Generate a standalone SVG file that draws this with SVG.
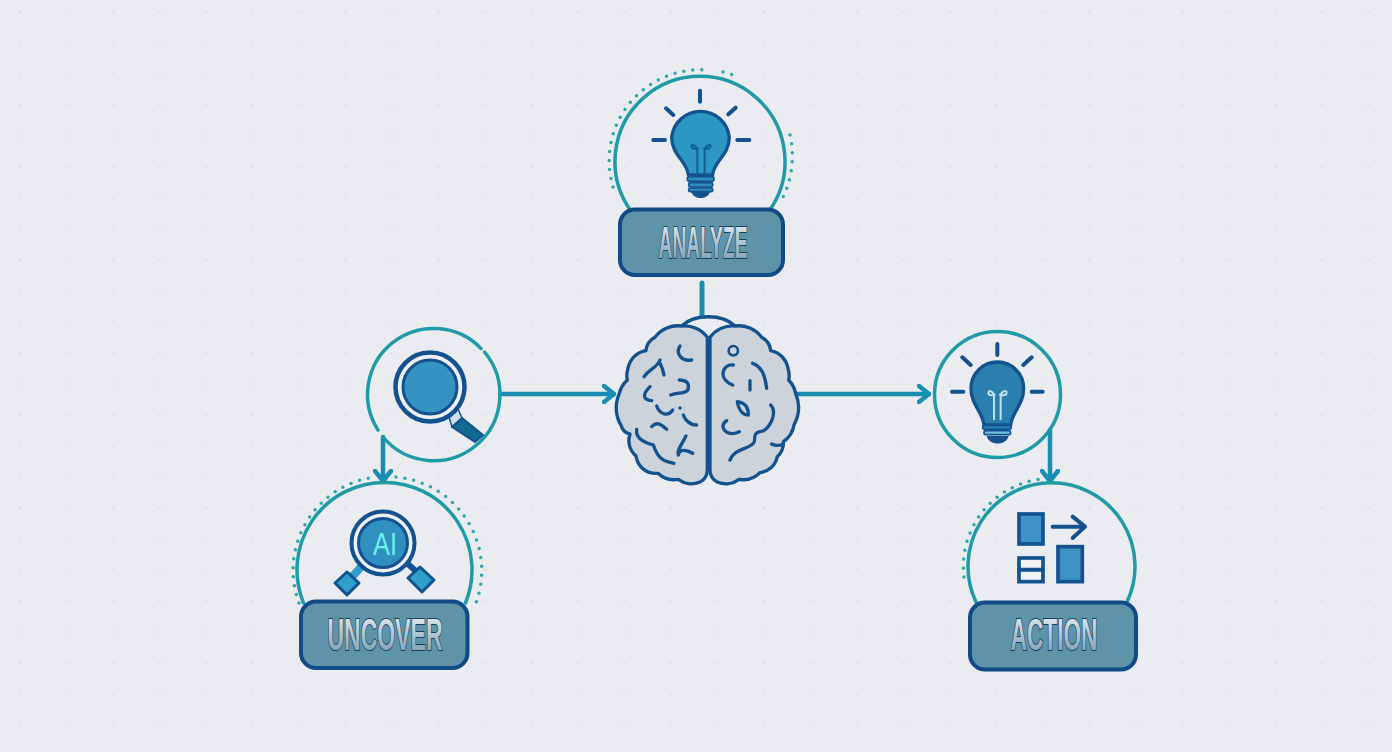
<svg xmlns="http://www.w3.org/2000/svg" width="1392" height="752" viewBox="0 0 1392 752">
<style>
.ring{fill:none;stroke:#1f9aa6;stroke-width:3.500;stroke-linecap:round}
.dots{fill:none;stroke:#2aa9ab;stroke-width:3.500;stroke-linecap:round;stroke-dasharray:0 9}
.box{fill:#5f94a8;stroke:#104a87;stroke-width:4}
.label{font-family:"Liberation Sans",Arial,sans-serif;font-weight:700;font-size:44px;fill:url(#lab);stroke:#17405f;stroke-width:2;paint-order:stroke;text-anchor:middle}
.conn{fill:none;stroke:#1a8db2;stroke-width:4.500;stroke-linecap:round;stroke-linejoin:round}
.z{fill:none;stroke:#13528f;stroke-width:12;stroke-linecap:round;stroke-linejoin:round}
.b{fill:none;stroke:#13528f;stroke-width:10;stroke-linecap:round;stroke-linejoin:round}
.lobe{fill:#cdd3da;stroke:#13528f;stroke-width:10;stroke-linejoin:round}
.zf{stroke:#13528f;stroke-width:10;stroke-linejoin:round}
.fil{fill:none;stroke-width:6;stroke-linecap:round}
</style>
<defs>
<linearGradient id="lab" x1="0" y1="0" x2="0" y2="1"><stop offset="0" stop-color="#eef3f5"/><stop offset=".55" stop-color="#a9bfcd"/><stop offset="1" stop-color="#6f97b0"/></linearGradient>
<pattern id="bg" width="46.500" height="31" patternUnits="userSpaceOnUse"><circle cx="20" cy="12" r="1" fill="#d8dde3"/></pattern>
<marker id="chev" viewBox="0 0 14 20" refX="12" refY="10" markerWidth="14" markerHeight="20" markerUnits="userSpaceOnUse" orient="auto"><path d="M2 2L12 10L2 18" fill="none" stroke="#1a8db2" stroke-width="4.500" stroke-linecap="round" stroke-linejoin="round"/></marker>
</defs>
<rect width="1392" height="752" fill="#eaecef"/>
<rect width="1392" height="752" fill="url(#bg)"/>

<g id="connectors">
<path class="conn" style="stroke-width:5" d="M702 283V315"/>
<path class="conn" d="M500 394H614" marker-end="url(#chev)"/>
<path class="conn" d="M797 394H929" marker-end="url(#chev)"/>
<path class="conn" d="M383 437V481" marker-end="url(#chev)"/>
<path class="conn" d="M1050 430V481" marker-end="url(#chev)"/>
</g>

<g id="analyze">
<path class="dots" d="M613 187A91 91 0 0 1 707 70"/>
<path class="dots" d="M723 72A91 91 0 0 1 733 75"/>
<path class="dots" d="M790 135A94 94 0 0 1 783 197"/>
<path class="ring" d="M631 211A85 85 0 1 1 769 211"/>
<g transform="translate(590 60) scale(.3333)">
<path class="z" d="M330 92V125M228 145L250 165M437 143L415 163M190 240H225M442 240H478"/>
<path class="zf" fill="#2b97c2" d="M295 345C292 305 245 285 245 232A87 87 0 0 1 418 232C418 285 370 305 368 345Z"/>
<path class="fil" stroke="#14608f" d="M322 345V272C322 258 304 248 304 258C304 266 318 268 324 266M344 345V272C344 258 362 248 362 258C362 266 348 268 342 266"/>
<rect x="292" y="350" width="80" height="14" rx="6" fill="#2b8fbb" stroke="#13528f" stroke-width="5"/>
<rect x="296" y="368" width="72" height="13" rx="6" fill="#2b8fbb" stroke="#13528f" stroke-width="5"/>
<rect x="296" y="384" width="72" height="11" rx="5" fill="#2b8fbb" stroke="#13528f" stroke-width="5"/>
<path d="M304 396H360C352 420 312 420 304 396Z" fill="#13528f"/>
</g>
<rect class="box" x="620" y="209.500" width="163" height="65.500" rx="15"/>
<text class="label" x="703" y="258" textLength="89" lengthAdjust="spacingAndGlyphs">ANALYZE</text>
</g>

<g id="brain" transform="translate(600 300) scale(.3333)">
<path d="M245 78A95 60 0 0 1 405 78" fill="none" stroke="#13528f" stroke-width="10"/>
<path class="lobe" d="M322 112A85 85 0 0 0 245 78A85 85 0 0 0 165 112A50 50 0 0 0 138 152A65 65 0 0 0 84 205Q78 225 82 240A80 80 0 0 0 58 280A110 110 0 0 0 64 378A35 35 0 0 0 90 402A60 60 0 0 0 108 468A60 60 0 0 0 174 520A70 70 0 0 0 235 538A65 65 0 0 0 300 546Q322 535 322 510Z"/>
<path class="lobe" d="M330 112A85 85 0 0 1 405 78A85 85 0 0 1 485 112A50 50 0 0 1 512 152A65 65 0 0 1 564 205Q570 225 566 240A80 80 0 0 1 587 280A110 110 0 0 1 582 375A75 75 0 0 1 550 425A55 55 0 0 1 532 470A60 60 0 0 1 480 518A70 70 0 0 1 417 538A65 65 0 0 1 352 546Q330 535 330 510Z"/>
<path class="b" d="M240 138C225 160 245 185 275 180M132 230C150 205 170 205 180 180M180 190C185 200 190 210 192 225M150 260C125 285 130 300 155 302M212 285C240 275 270 285 265 255C262 242 250 240 238 240M170 318C180 345 205 350 218 330M250 345C255 360 270 375 290 375M155 380C175 360 190 380 200 388M110 388C105 420 140 430 160 435C175 480 195 485 222 490M258 408C245 435 230 450 235 465C240 445 260 450 278 460"/>
<circle cx="240" cy="324" r="5" fill="#13528f"/>
<circle cx="400" cy="152" r="14" fill="none" stroke="#13528f" stroke-width="8"/>
<path class="b" d="M400 195C370 190 350 235 398 255M458 190C485 200 495 225 500 265M450 242V270M412 305C440 310 445 325 445 345C425 345 415 325 412 305ZM512 315C535 340 505 395 480 395C455 400 470 420 460 430C440 450 405 445 390 480M550 432C540 437 525 437 515 432M380 362C355 375 375 415 418 395"/>
</g>

<g id="discover">
<path class="ring" d="M484.500 352A66 66 0 0 1 383 437"/>
<path class="ring" d="M378 430A66 66 0 0 1 481 348.500"/>
<path d="M449 417L458 409L462 418L452 427Z" fill="#cfe0ea" stroke="#13528f" stroke-width="1.500"/>
<path d="M452 427L462 418L483 435L475 442Z" fill="#13688f" stroke="#13528f" stroke-width="2" stroke-linejoin="round"/>
<circle cx="430" cy="387" r="34.500" fill="#eef1f3" stroke="#13528f" stroke-width="4.500"/>
<circle cx="430" cy="387" r="27" fill="#3493c2" stroke="#13528f" stroke-width="3"/>
</g>

<g id="uncover">
<path class="dots" d="M299 603A94 94 0 0 1 375 477"/>
<path class="dots" d="M396 477A94 94 0 0 1 476 603"/>
<path class="ring" d="M303.500 603A87.500 87.500 0 1 1 465.500 603"/>
<path d="M349 580L362 566" fill="none" stroke="#2f9fca" stroke-width="8"/>
<path d="M420 575L407 563" fill="none" stroke="#13528f" stroke-width="6"/>
<path d="M335 583L347 572L359 583L347 595Z" fill="#2f9fca" stroke="#13528f" stroke-width="3" stroke-linejoin="round"/>
<path d="M408 578L420 567L434 580L422 592Z" fill="#2f9fca" stroke="#13528f" stroke-width="3" stroke-linejoin="round"/>
<circle cx="383" cy="543" r="31.500" fill="#eef1f3" stroke="#13528f" stroke-width="4"/>
<circle cx="383" cy="543" r="24.500" fill="#2f8fbf" stroke="#13528f" stroke-width="3"/>
<text x="385" y="555" font-family="'Liberation Sans',Arial,sans-serif" font-size="31" fill="#6ff0ee" text-anchor="middle" textLength="24" lengthAdjust="spacingAndGlyphs">AI</text>
<rect class="box" x="301" y="601.500" width="166.500" height="66.500" rx="15"/>
<text class="label" x="385" y="650" textLength="115" lengthAdjust="spacingAndGlyphs">UNCOVER</text>
</g>

<g id="insight">
<circle class="ring" cx="997.500" cy="394.500" r="63"/>
<g transform="translate(920 320) scale(.3333)">
<path class="z" d="M232 72V105M127 112L152 135M335 112L310 135M96 215H130M335 215H368"/>
<path class="zf" fill="#2b7fae" d="M192 315C188 275 153 255 153 205A79 79 0 0 1 311 205C311 255 276 275 272 315Z"/>
<path class="fil" stroke="#bfe3ee" d="M222 298V228C222 215 205 208 205 218C205 226 218 228 224 224M242 298V228C242 215 260 208 260 218C260 226 246 228 240 224"/>
<rect x="188" y="316" width="86" height="12" rx="6" fill="#2b7fae" stroke="#13528f" stroke-width="5"/>
<rect x="192" y="332" width="80" height="12" rx="6" fill="#6fc0de" stroke="#13528f" stroke-width="5"/>
<path d="M200 348H266C260 378 206 378 200 348Z" fill="#13528f"/>
</g>
</g>

<g id="action">
<path class="dots" d="M964 577A88 88 0 0 1 1042 479"/>
<path class="ring" d="M976 602A83.500 83.500 0 1 1 1127 602"/>
<g transform="translate(920 320) scale(.3333)">
<rect x="297" y="582" width="72" height="90" fill="#3f93c4" stroke="#13528f" stroke-width="11"/>
<rect x="414" y="680" width="73" height="105" fill="#3f93c4" stroke="#13528f" stroke-width="11"/>
<rect x="297" y="714" width="72" height="71" fill="#f0f2f4" stroke="#13528f" stroke-width="11"/>
<path class="z" d="M297 749H369M398 620H495M458 590L495 620L458 654"/>
</g>
<rect class="box" x="970" y="602.500" width="166" height="67" rx="15"/>
<text class="label" x="1054" y="650" textLength="87" lengthAdjust="spacingAndGlyphs">ACTION</text>
</g>
</svg>
